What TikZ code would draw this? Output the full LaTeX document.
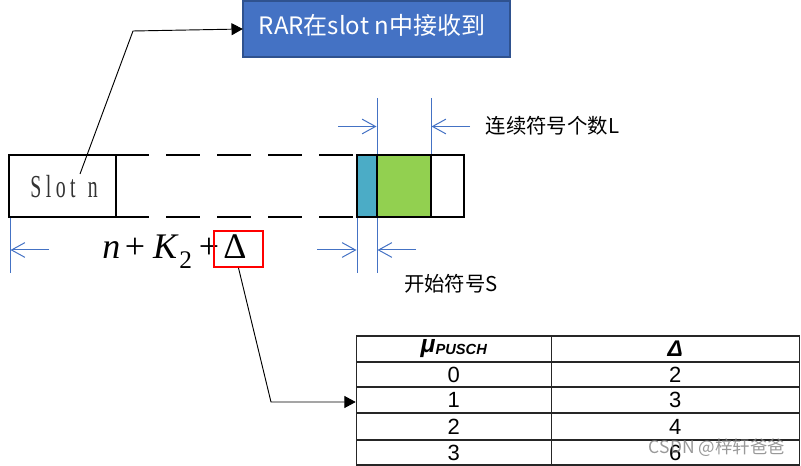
\documentclass[tikz,border=0pt]{standalone}
\usepackage{fontspec}
\setmainfont{Noto Sans CJK SC}
\newfontfamily\tablefont{Liberation Sans}
\newfontfamily\formulafont{Liberation Serif}
\newfontfamily\slotfont[FakeStretch=0.62,LetterSpace=14]{Liberation Serif}
\usepackage{xcolor}
\usetikzlibrary{arrows.meta}
\definecolor{rarblue}{HTML}{4472C4}
\definecolor{rarborder}{HTML}{2F528F}
\definecolor{startblue}{HTML}{4BACC6}
\definecolor{symgreen}{HTML}{92D050}
\tikzset{
	slotbox/.style={draw=black,line width=1.8pt,inner sep=0pt,outer sep=0pt,minimum height=46.5pt,anchor=north west},
	slotedge/.style={line width=1.8pt,dash pattern=on 25.5pt off 12.75pt,dash phase=0.75pt},
	dimline/.style={draw=rarblue,line width=0.75pt},
	dimarrow/.style={dimline,-{Straight Barb[length=10pt,width=11pt,line width=0.75pt]}},
	callout/.style={line width=0.7pt,-{Triangle[length=8.5pt,width=9pt]}},
	label/.style={inner sep=0pt,font=\fontsize{15.3}{18}\selectfont},
	cellleft/.style={draw=black!85,line width=0.8pt,minimum width=146.25pt,inner sep=0pt,font=\tablefont\fontsize{16.5}{19}\selectfont},
	cellright/.style={cellleft,minimum width=186pt},
}
\begin{document}
\begin{tikzpicture}[x=0.75pt,y=0.75pt,yscale=-1,xscale=1]
		\useasboundingbox (0,0) rectangle (801,466);
		
		%Dimension lines
		\coordinate (stop1) at (377,98);
		\coordinate (stop2) at (377,273);
		\coordinate (lenTop) at (431,98);
		\coordinate (lenBot) at (431,155);
		\coordinate (farA) at (10,217);
		\coordinate (farB) at (10,273);
		\coordinate (nearA) at (357,217);
		\coordinate (nearB) at (357,273);
		\draw[dimline] (stop1) -- (stop2);
		\draw[dimline] (lenTop) -- (lenBot);
		\draw[dimline] (farA) -- (farB);
		\draw[dimline] (nearA) -- (nearB);
		
		%Shape: Rectangle
		\node[draw=rarborder,fill=rarblue,line width=1.5pt,minimum width=200.5pt,minimum height=41.5pt,inner sep=0pt,outer sep=0pt] (rar) at (376.5,29) {};
		\node[inner sep=0pt,text=white,font=\fontsize{18}{22}\selectfont] (rartext) at (372,25) {RAR在slot n中接收到};
		%Shape: Rectangle
		\node[slotbox,minimum width=80.25pt] (slotn) at (9,155) {};
		\node[slotbox,fill=startblue,minimum width=15pt] (startsym) at (357,155) {};
		\node[slotbox,fill=symgreen,minimum width=40.5pt] (lensym) at (377,155) {};
		\node[slotbox,minimum width=24.75pt] (tailsym) at (431,155) {};
		%Straight Lines
		\draw[slotedge] (slotn.north east) -- (startsym.north west);
		\draw[slotedge] (slotn.south east) -- (startsym.south west);
		
		%Dimension arrows
		\coordinate (a1) at (338,126.5);
		\coordinate (a2) at (376.5,126.5);
		\coordinate (b1) at (470,126.5);
		\coordinate (b2) at (431.5,126.5);
		\coordinate (c1) at (49,250);
		\coordinate (c2) at (10.5,250);
		\coordinate (d1) at (317,250);
		\coordinate (d2) at (356.5,250);
		\coordinate (e1) at (416,250);
		\coordinate (e2) at (377.5,250);
		\draw[dimarrow] (a1) -- (a2);
		\draw[dimarrow] (b1) -- (b2);
		\draw[dimarrow] (c1) -- (c2);
		\draw[dimarrow] (d1) -- (d2);
		\draw[dimarrow] (e1) -- (e2);
		
		% Text Node
		\node[inner sep=0pt,text=black!80,font=\slotfont\fontsize{24}{27}\selectfont] (slotlabel) at (64,187) {Slot\hspace{2pt} n};
		% Text Node
		\node[label] (lenlabel) at (552.5,126) {连续符号个数L};
		% Text Node
		\node[label] (startlabel) at (451,284) {开始符号S};
		% Text Node
		\node[inner sep=0pt,anchor=base west,font=\formulafont\fontsize{27}{30}\selectfont] (formula) at (102,259) {\textit{n}\hspace{3.5pt}+\hspace{6pt}\textit{K}\hspace{0.5pt}\raisebox{-7pt}{\fontsize{19}{22}\selectfont 2}\hspace{5pt}+};
		\node[inner sep=0pt,anchor=base,font=\formulafont\fontsize{27}{30}\selectfont] (delta) at (235,259) {Δ};
		%Shape: Rectangle
		\node[draw=red,line width=1.4pt,minimum width=36.75pt,minimum height=27pt,inner sep=0pt] (deltabox) at (238.5,249) {};
		
		%Table
		\node[cellleft,minimum height=19.5pt] (mu) at (453.75,349) {\bfseries\itshape\fontsize{18.5}{21}\selectfont μ\raisebox{-1pt}{\fontsize{11}{13}\selectfont PUSCH}};
		\node[cellright,minimum height=19.5pt] (dh) at (675.25,349) {\bfseries\itshape\fontsize{17}{20}\selectfont Δ};
		\node[cellleft,minimum height=18.75pt] (m0) at (453.75,374.5) {0};
		\node[cellright,minimum height=18.75pt] (d0) at (675.25,374.5) {2};
		\node[cellleft,minimum height=19.5pt] (m1) at (453.75,400) {1};
		\node[cellright,minimum height=19.5pt] (d1) at (675.25,400) {3};
		\node[cellleft,minimum height=20.25pt] (m2) at (453.75,426.5) {2};
		\node[cellright,minimum height=20.25pt] (d2) at (675.25,426.5) {4};
		\node[cellleft,minimum height=18.75pt] (m3) at (453.75,452.5) {3};
		\node[cellright,minimum height=18.75pt] (d3) at (675.25,452.5) {6};
		
		%Straight Lines
		\coordinate (slotend) at (80,174);
		\coordinate (slotbend) at (133,31);
		\coordinate (tablebend) at (271,402);
		\draw[callout] (slotend) -- (slotbend) -- (rar.west);
		\draw[callout] (deltabox.south) -- (tablebend) -- (m1.west |- tablebend);
		
		% Text Node
		\node[inner sep=0pt,text=black!50,opacity=0.8,font=\fontsize{13.1}{15}\selectfont] (mark) at (717,448) {CSDN @梓轩爸爸};
		
\end{tikzpicture}
\end{document}
